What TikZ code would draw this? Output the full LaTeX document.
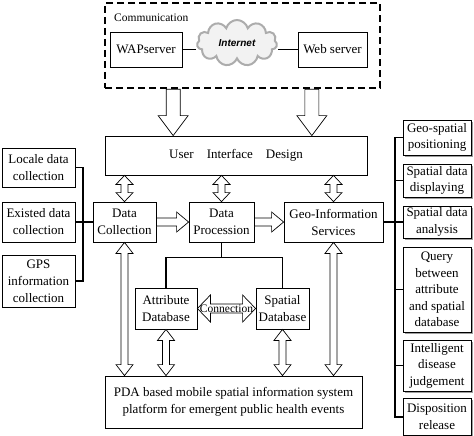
\documentclass[tikz,border=0pt]{standalone}
\usepackage{fontspec}
\setmainfont{Liberation Serif}
\newfontfamily\netfont{Liberation Sans}
\usetikzlibrary{calc, shapes.symbols, shadows, backgrounds}

\begin{document}
\begin{tikzpicture}[
  x=1pt, y=-1pt,
  box/.style={draw, line width=0.8pt, align=center, inner sep=1pt, fill=white,
              font=\fontsize{13}{17}\selectfont},
  lbox/.style={box, minimum width=73pt},
  sbox/.style={box, minimum width=68pt, font=\fontsize{13}{16.5}\selectfont,
               drop shadow={shadow xshift=1.6pt, shadow yshift=-1.6pt, fill=gray!75, opacity=1}},
  link/.style={line width=1.4pt},
  onearr/.style n args={3}{draw, line width=0.7pt, fill=white, to path={
    -- ($(\tikztostart)!#1!90:(\tikztotarget)$)
    -- ($(\tikztotarget)!#3!(\tikztostart)!#1!-90:(\tikztostart)$)
    -- ($(\tikztotarget)!#3!(\tikztostart)!#2!-90:(\tikztostart)$)
    -- (\tikztotarget)
    -- ($(\tikztotarget)!#3!(\tikztostart)!#2!90:(\tikztostart)$)
    -- ($(\tikztotarget)!#3!(\tikztostart)!#1!90:(\tikztostart)$)
    -- ($(\tikztostart)!#1!-90:(\tikztotarget)$)
    -- cycle}},
  dblarr/.style n args={3}{draw, line width=0.7pt, fill=white, to path={
    -- ($(\tikztostart)!#3!(\tikztotarget)!#2!90:(\tikztotarget)$)
    -- ($(\tikztostart)!#3!(\tikztotarget)!#1!90:(\tikztotarget)$)
    -- ($(\tikztotarget)!#3!(\tikztostart)!#1!-90:(\tikztostart)$)
    -- ($(\tikztotarget)!#3!(\tikztostart)!#2!-90:(\tikztostart)$)
    -- (\tikztotarget)
    -- ($(\tikztotarget)!#3!(\tikztostart)!#2!90:(\tikztostart)$)
    -- ($(\tikztotarget)!#3!(\tikztostart)!#1!90:(\tikztostart)$)
    -- ($(\tikztostart)!#3!(\tikztotarget)!#1!-90:(\tikztotarget)$)
    -- ($(\tikztostart)!#3!(\tikztotarget)!#2!-90:(\tikztotarget)$)
    -- cycle}}
]
\useasboundingbox (0,0) rectangle (474,436);

% communication
\node[draw, line width=2.4pt, dash pattern=on 7pt off 4pt, minimum width=275pt,
      minimum height=85pt, inner sep=0pt] (comm) at (242.5,45.5) {};
\node[anchor=west, font=\fontsize{11.5}{13}\selectfont, inner sep=0pt] (commlbl) at (114,18) {Communication};
\node[box, minimum width=72pt, minimum height=35pt] (wap) at (146,49.5) {WAPserver};
\node[box, minimum width=69pt, minimum height=35pt] (web) at (332.5,49.5) {Web server};
\node[cloud, cloud puffs=11, aspect=1.8, draw=gray!65, line width=2pt, fill=gray!10,
      minimum width=80pt, minimum height=46pt, inner sep=0pt,
      font=\netfont\bfseries\itshape\fontsize{10}{12}\selectfont] (net) at (237,43) {Internet};
\begin{scope}[on background layer]
  \draw[link] (wap.east) -- (net.west |- wap.east);
  \draw[link] (web.west) -- (net.east |- web.west);
\end{scope}

% main blocks
\node[box, minimum width=262pt, minimum height=39pt] (ui) at (236,155.5) {User\quad Interface\quad Design};
\node[box, minimum width=63pt, minimum height=40pt] (dc) at (124.5,222) {Data\\Collection};
\node[box, minimum width=65pt, minimum height=40pt] (dp) at (221.5,222) {Data\\Procession};
\node[box, minimum width=99pt, minimum height=40pt] (gis) at (333.5,222) {Geo-Information\\Services};
\node[box, minimum width=62pt, minimum height=41pt] (attr) at (166,308.5) {Attribute\\Database};
\node[box, minimum width=53pt, minimum height=41pt] (spat) at (282.5,308.5) {Spatial\\Database};
\node[box, minimum width=257pt, minimum height=52pt] (pda) at (233.5,402)
  {PDA based mobile spatial information system\\platform for emergent public health events};

% collection sources
\node[lbox, minimum height=39pt] (loc) at (38.5,167.5) {Locale data\\collection};
\node[lbox, minimum height=40pt] (ext) at (38.5,222) {Existed data\\collection};
\node[lbox, minimum height=52pt] (gps) at (38.5,281) {GPS\\information\\collection};

% services
\node[sbox, minimum height=35pt] (r1) at (437,137.5) {Geo-spatial\\positioning};
\node[sbox, minimum height=33pt] (r2) at (437,180.5) {Spatial data\\displaying};
\node[sbox, minimum height=32pt] (r3) at (437,222) {Spatial data\\analysis};
\node[sbox, minimum height=85pt] (r4) at (437,289.5) {Query\\between\\attribute\\and spatial\\database};
\node[sbox, minimum height=51pt] (r5) at (437,365.5) {Intelligent\\disease\\judgement};
\node[sbox, minimum height=37pt] (r6) at (437,417) {Disposition\\release};

% links
\coordinate (lb) at (83,222);
\draw[link] (loc.east) -| (lb) |- (gps.east);
\draw[link] (ext.east) -- (dc.west);
\coordinate (rb) at (395,222);
\draw[link] (r1.west) -| (rb) |- (r6.west);
\draw[link] (gis.east) -- (r3.west);
\foreach \r in {r2,r4,r5} \draw[link] (\r.west) -- (rb |- \r.west);
\draw[link] (dp.south) -- ++(0,15) coordinate (dbj);
\draw[link] (attr.north) |- (dbj) -| (spat.north);

% block arrows
\coordinate (t1) at ($(comm.south west)!0.25!(comm.south east)$);
\coordinate (t2) at ($(comm.south west)!0.75!(comm.south east)$);
\draw[onearr={7pt}{15pt}{20pt}] (t1) to (t1 |- ui.north);
\draw[onearr={7pt}{15pt}{20pt}] (t2) to (t2 |- ui.north);
\foreach \b in {dc,dp,gis} \draw[dblarr={3.5pt}{8.5pt}{9pt}] (\b.north |- ui.south) to (\b.north);
\foreach \b in {dc,gis,attr,spat} \draw[dblarr={3.5pt}{8.5pt}{11pt}] (\b.south) to (\b.south |- pda.north);
\draw[onearr={4pt}{10pt}{12pt}] (dc.east) to (dp.west);
\draw[onearr={4pt}{10pt}{12pt}] (dp.east) to (gis.west);
\draw[dblarr={4.5pt}{13.5pt}{13pt}] (attr.east) to (spat.west);
\node[font=\fontsize{11.5}{13}\selectfont, inner sep=0pt] (conn) at ($(attr.east)!0.5!(spat.west)$) {Connection};
\end{tikzpicture}
\end{document}
